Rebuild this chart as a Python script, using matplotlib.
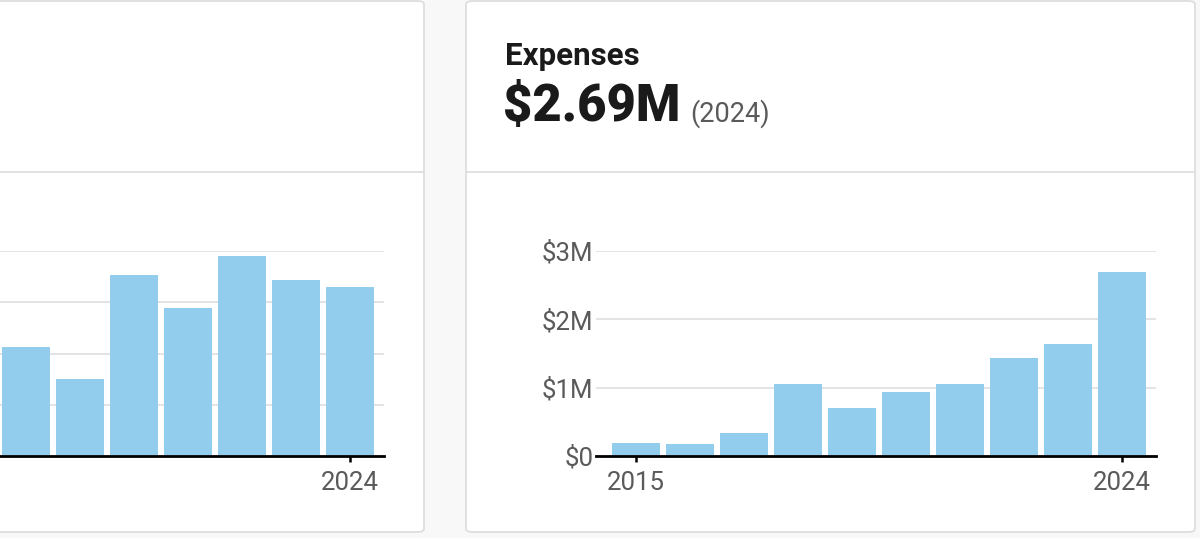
import matplotlib.pyplot as plt
from matplotlib.patches import FancyBboxPatch
from matplotlib.lines import Line2D

# left card (cut off at the left edge): years that are visible
left_years = [2018, 2019, 2020, 2021, 2022, 2023, 2024]
left_values = [2.13, 1.50, 3.53, 2.88, 3.91, 3.43, 3.30]   # $M
left_ticks = [0, 1, 2, 3, 4]

# right card: expenses
exp_years = [2015, 2016, 2017, 2018, 2019, 2020, 2021, 2022, 2023, 2024]
exp_values = [0.195, 0.17, 0.33, 1.05, 0.70, 0.94, 1.05, 1.43, 1.64, 2.69]  # $M
exp_ticks = [0, 1, 2, 3]
exp_tick_labels = ['$0', '$1M', '$2M', '$3M']

title = 'Expenses'
headline = '$2.69M'
headline_year = '(2024)'

W, H = 1200, 538
BAR = '#93cdee'
GRID = '#e2e2e2'
BORDER = '#dcdcdc'
TICK_TXT = '#5a5a5a'

fig = plt.figure(figsize=(W / 100, H / 100), dpi=100)
fig.patch.set_facecolor('#f8f8f8')


def fx(px):
    return px / W


def fy(py):
    # py measured from top of the image
    return 1 - py / H


def card(x0, y0, x1, y1):
    box = FancyBboxPatch((fx(x0), fy(y1)), fx(x1 - x0), (y1 - y0) / H,
                         boxstyle='round,pad=0,rounding_size=0.006',
                         transform=fig.transFigure, facecolor='white',
                         edgecolor=BORDER, linewidth=1.2, zorder=-5)
    fig.add_artist(box)
    fig.add_artist(Line2D([fx(x0 + 1), fx(x1 - 1)], [fy(172), fy(172)],
                          transform=fig.transFigure, color=BORDER, lw=1.2,
                          zorder=-4))


card(-60, 1, 424, 532)
card(466, 1, 1195, 532)


def bar_axes(left_px, years, values, ticks, tick_labels, xticks, ymax):
    ax = fig.add_axes([fx(left_px), fy(456), fx(560), 205 / H])
    ax.set_facecolor('none')
    ax.bar(years, values, width=0.89, color=BAR, zorder=2)
    ax.set_xlim(2014.26, 2024.63)
    ax.set_ylim(0, ymax)
    ax.set_yticks(ticks)
    ax.set_yticklabels(tick_labels)
    ax.set_xticks(xticks)
    ax.set_xticklabels([str(y) for y in xticks])
    ax.grid(axis='y', color=GRID, lw=1.3, zorder=0)
    ax.set_axisbelow(True)
    for s in ['top', 'right', 'left']:
        ax.spines[s].set_visible(False)
    ax.spines['bottom'].set_color('black')
    ax.spines['bottom'].set_linewidth(2)
    ax.spines['bottom'].set_zorder(3)
    ax.tick_params(axis='y', length=0, pad=2, labelsize=18.5, labelcolor=TICK_TXT)
    ax.tick_params(axis='x', length=4.5, width=1.8, color='black', pad=6.5,
                   labelsize=18.5, labelcolor=TICK_TXT)
    for lab in ax.get_xticklabels() + ax.get_yticklabels():
        lab.set_fontfamily('Roboto')
    return ax


# left chart: its y labels and first years sit beyond the picture's edge
bar_axes(-176, left_years, left_values, left_ticks, [''] * len(left_ticks),
         [2024], 4)
bar_axes(596, exp_years, exp_values, exp_ticks, exp_tick_labels,
         [2015, 2024], 3)

fig.text(fx(505), fy(56), title, fontsize=22.5, fontweight='semibold',
         family='Roboto', color='#1a1a1a', va='center', ha='left')
fig.text(fx(503), fy(107), headline, fontsize=36.5, fontweight='black',
         family='Roboto', color='#1a1a1a', va='center', ha='left')
fig.text(fx(690), fy(114), headline_year, fontsize=19.5, family='Roboto',
         color=TICK_TXT, va='center', ha='left')

fig.savefig('out.png', dpi=100, facecolor=fig.get_facecolor())
